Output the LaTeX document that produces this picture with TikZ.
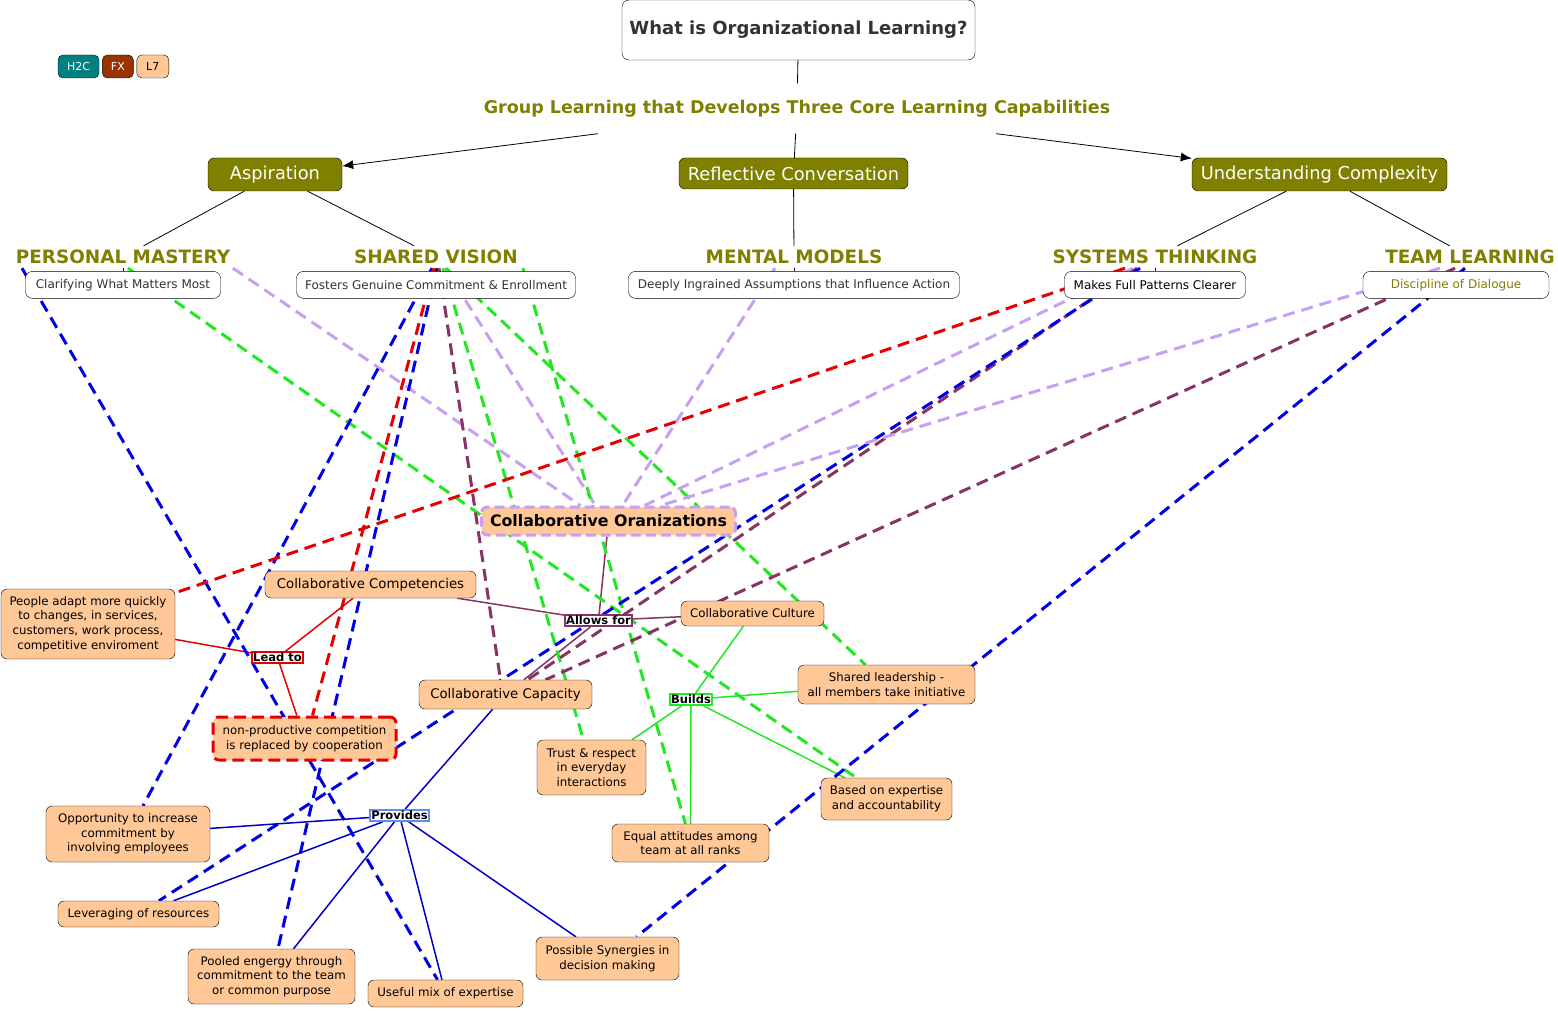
\documentclass[tikz,border=0pt]{standalone}
\usepackage{fontspec}
\setmainfont{DejaVu Sans}
\usepackage{tikz}
\usetikzlibrary{arrows.meta, positioning, backgrounds}
\definecolor{cmolive}{RGB}{128, 128, 0}
\definecolor{cmpeach}{RGB}{255, 200, 150}
\definecolor{cmteal}{RGB}{0, 128, 128}
\definecolor{cmbrown}{RGB}{153, 51, 0}
\definecolor{textgrey}{RGB}{51, 51, 51}
\definecolor{xlblue}{RGB}{0, 0, 230}
\definecolor{xlred}{RGB}{230, 0, 0}
\definecolor{xlgreen}{RGB}{34, 232, 34}
\definecolor{xllilac}{RGB}{200, 160, 240}
\definecolor{xlplum}{RGB}{136, 51, 102}
\definecolor{provblue}{RGB}{100, 140, 240}

\begin{document}
\begin{tikzpicture}[
  x = 1pt, y = -1pt,
  node distance = 3pt,
  legend/.style     = {rectangle, rounded corners=5pt, draw=black, minimum height=23pt,
                       inner sep=1pt, font=\fontsize{11}{13}\selectfont},
  capability/.style = {rectangle, rounded corners=6pt, draw=black, fill=cmolive,
                       text=white, font=\fontsize{17.8}{20}\selectfont},
  discipline/.style = {inner sep=0pt, minimum height=22pt, text=cmolive,
                       font=\fontsize{18.4}{20}\selectfont\bfseries},
  summary/.style    = {rectangle, rounded corners=7pt, draw=black, fill=white, minimum height=27pt,
                       inner sep=1pt, font=\fontsize{12}{14}\selectfont, text=textgrey},
  concept/.style    = {rectangle, rounded corners=6pt, draw=black, fill=cmpeach, align=center,
                       inner sep=1pt, font=\fontsize{11.8}{14.6}\selectfont},
  bigconcept/.style = {concept, font=\fontsize{13.3}{16}\selectfont},
  linkword/.style   = {rectangle, draw=#1, line width=1.5pt, fill=white, inner sep=1.2pt,
                       font=\fontsize{11.5}{13}\selectfont\bfseries},
  tree/.style       = {draw=black, line width=0.8pt},
  feed/.style       = {tree, ->, >={Latex[length=11pt, width=9pt]}},
  tie/.style        = {draw=#1, line width=1.5pt},
  crosslink/.style  = {draw=#1, line width=3pt, dash pattern=on 12pt off 7pt}
]
\useasboundingbox (0,0) rectangle (1558,1011);

\node[legend, fill=cmteal, text=white, minimum width=41pt] (h2c) at (78.5,66.5) {H2C};
\node[legend, fill=cmbrown, text=white, minimum width=31pt, right=of h2c] (fx) {FX};
\node[legend, fill=cmpeach, minimum width=32pt, right=of fx] (l7) {L7};

\node[rectangle, rounded corners=7pt, draw=black, fill=white, minimum width=353pt, minimum height=60pt,
      font=\fontsize{18}{20}\selectfont\bfseries, text=textgrey] (question) at (798.5,30)
      {What is Organizational Learning?};
\node[minimum height=50pt, text=cmolive, font=\fontsize{17.5}{20}\selectfont\bfseries] (groupl) at (797,108.5)
      {Group Learning that Develops Three Core Learning Capabilities};

\node[capability, minimum width=134pt, minimum height=33pt] (aspiration) at (275,174.5) {Aspiration};
\node[capability, minimum width=229pt, minimum height=31pt] (reflective) at (793.5,173.5) {Reflective Conversation};
\node[capability, minimum width=255pt, minimum height=33pt] (complexity) at (1319.5,174.5) {Understanding Complexity};

\node[discipline] (mastery) at (123,257)  {PERSONAL MASTERY};
\node[discipline] (vision)  at (436,257)  {SHARED VISION};
\node[discipline] (models)  at (794,257)  {MENTAL MODELS};
\node[discipline] (systems) at (1155,257) {SYSTEMS THINKING};
\node[discipline] (teaml)   at (1470,257) {TEAM LEARNING};

\node[summary, minimum width=195pt, below=of mastery] (masterysub) {Clarifying What Matters Most};
\node[summary, minimum width=279pt, below=of vision]  (visionsub)  {Fosters Genuine Commitment \& Enrollment};
\node[summary, minimum width=331pt, below=of models]  (modelssub)  {Deeply Ingrained Assumptions that Influence Action};
\node[summary, minimum width=181pt, text=black, below=of systems] (systemssub) {Makes Full Patterns Clearer};
\node[summary, minimum width=186pt, text=cmolive, below=of teaml, xshift=-14pt] (teamlsub) {Discipline of Dialogue};

\node[concept, draw=xllilac, line width=3pt, dash pattern=on 10pt off 5pt, minimum width=254pt, minimum height=28pt,
      font=\fontsize{15.8}{18}\selectfont\bfseries] (corgs) at (608.5,521) {Collaborative Oranizations};
\node[bigconcept, minimum width=211pt, minimum height=27pt] (competencies) at (370.5,584.5) {Collaborative Competencies};
\node[concept, minimum width=174pt, minimum height=70pt] (adapt) at (88,624)
      {People adapt more quickly\\to changes, in services,\\customers, work process,\\competitive enviroment};
\node[linkword=xlred] (leadto) at (277.5,657.5) {Lead to};
\node[concept, draw=xlred, line width=3pt, dash pattern=on 12pt off 6pt, minimum width=183pt, minimum height=43pt]
      (noncomp) at (304.5,738.5) {non-productive competition\\is replaced by cooperation};
\node[linkword=xlplum] (allowsfor) at (598.5,620.5) {Allows for};
\node[concept, minimum width=143pt, minimum height=25pt] (culture) at (752.5,613.5) {Collaborative Culture};
\node[bigconcept, minimum width=173pt, minimum height=29pt] (capacity) at (505.5,694.5) {Collaborative Capacity};
\node[concept, minimum width=177pt, minimum height=39pt] (sharedlead) at (886.5,684.5)
      {Shared leadership -\\all members take initiative};
\node[linkword=xlgreen] (builds) at (691,699.5) {Builds};
\node[concept, minimum width=109pt, minimum height=55pt] (trust) at (591.5,767.5)
      {Trust \& respect\\in everyday\\interactions};
\node[concept, minimum width=131pt, minimum height=42pt] (expertise) at (886.5,799)
      {Based on expertise\\and accountability};
\node[concept, minimum width=157pt, minimum height=38pt] (equal) at (690.5,843)
      {Equal attitudes among\\team at all ranks};
\node[linkword=provblue] (provides) at (399.5,815.5) {Provides};
\node[concept, minimum width=164pt, minimum height=56pt] (opportunity) at (128,834)
      {Opportunity to increase\\commitment by\\involving employees};
\node[concept, minimum width=161pt, minimum height=26pt] (leverage) at (138.5,914) {Leveraging of resources};
\node[concept, minimum width=167pt, minimum height=55pt] (pooled) at (271.5,976.5)
      {Pooled engergy through\\commitment to the team\\or common purpose};
\node[concept, minimum width=155pt, minimum height=27pt] (mix) at (445.5,993.5) {Useful mix of expertise};
\node[concept, minimum width=143pt, minimum height=43pt] (synergy) at (607.5,958.5)
      {Possible Synergies in\\decision making};

\draw[tree] (question) -- (groupl);
\draw[feed] (groupl) -- (aspiration);
\draw[tree] (groupl) -- (reflective);
\draw[feed] (groupl) -- (complexity);
\draw[tree] (aspiration) -- (mastery);
\draw[tree] (aspiration) -- (vision);
\draw[tree] (reflective) -- (models);
\draw[tree] (complexity) -- (systems);
\draw[tree] (complexity) -- (teaml);
\draw[tree] (mastery) -- (masterysub);
\draw[tree] (vision) -- (visionsub);
\draw[tree] (models) -- (modelssub);
\draw[tree] (systems) -- (systemssub);
\draw[tree] (teaml) -- (teamlsub);

\begin{scope}[on background layer]
\fill[white] (0,0) rectangle (1558,1011);

\draw[tie=xlplum] (corgs) -- (allowsfor);
\draw[tie=xlplum] (competencies) -- (allowsfor);
\draw[tie=xlplum] (allowsfor) -- (culture);
\draw[tie=xlplum] (allowsfor) -- (capacity);
\draw[tie=xlred] (adapt) -- (leadto);
\draw[tie=xlred] (competencies) -- (leadto);
\draw[tie=xlred] (leadto) -- (noncomp);
\draw[tie=xlgreen] (culture) -- (builds);
\draw[tie=xlgreen] (builds) -- (sharedlead);
\draw[tie=xlgreen] (builds) -- (trust);
\draw[tie=xlgreen] (builds) -- (equal);
\draw[tie=xlgreen] (builds) -- (expertise);
\draw[tie=xlblue!85!black] (capacity) -- (provides);
\draw[tie=xlblue!85!black] (provides) -- (opportunity);
\draw[tie=xlblue!85!black] (provides) -- (leverage);
\draw[tie=xlblue!85!black] (provides) -- (pooled);
\draw[tie=xlblue!85!black] (provides) -- (mix);
\draw[tie=xlblue!85!black] (provides) -- (synergy);

\draw[crosslink=xlblue]   ([xshift=-101pt]mastery.south) -- (mix);
\draw[crosslink=xlgreen]  ([xshift=5pt]mastery.south) -- (expertise);
\draw[crosslink=xllilac]  ([xshift=110pt]mastery.south) -- ([xshift=-28pt]corgs.north);

\draw[crosslink=xlblue]   ([xshift=-4pt]vision.south) -- (opportunity);
\draw[crosslink=xlred]    ([xshift=-2pt]vision.south) -- ([xshift=8pt]noncomp.north);
\draw[crosslink=xlblue]   ([xshift=1pt]vision.south) -- (pooled);
\draw[crosslink=xlplum]   ([xshift=3pt]vision.south) -- ([xshift=-5pt]capacity.north);
\draw[crosslink=xlgreen]  ([xshift=7pt]vision.south) -- ([xshift=-8pt]trust.north);
\draw[crosslink=xllilac]  ([xshift=9pt]vision.south) -- ([xshift=-13pt]corgs.north);
\draw[crosslink=xlgreen]  ([xshift=10pt]vision.south) -- ([xshift=-21pt]sharedlead.north);
\draw[crosslink=xlgreen]  ([xshift=87pt]vision.south) -- ([xshift=-5pt]equal.north);

\draw[crosslink=xllilac]  ([xshift=-19pt]models.south) -- ([xshift=14pt]corgs.north);

\draw[crosslink=xlred]    ([xshift=-30pt]systems.south) -- ([yshift=-4pt]adapt.north east);
\draw[crosslink=xllilac]  ([xshift=-22pt]systems.south) -- ([xshift=36pt]corgs.north);
\draw[crosslink=xlplum]   ([xshift=-18pt]systems.south) -- ([xshift=22pt]capacity.north);
\draw[crosslink=xlblue]   ([xshift=-15pt]systems.south) -- (leverage);

\draw[crosslink=xllilac]  ([xshift=-30pt]teaml.south) -- ([xshift=52pt]corgs.north);
\draw[crosslink=xlplum]   ([xshift=-15pt]teaml.south) -- ([xshift=40pt]capacity.north);
\draw[crosslink=xlblue]   ([xshift=-5pt]teaml.south) -- ([xshift=29pt]synergy.north);
\end{scope}

\end{tikzpicture}
\end{document}
